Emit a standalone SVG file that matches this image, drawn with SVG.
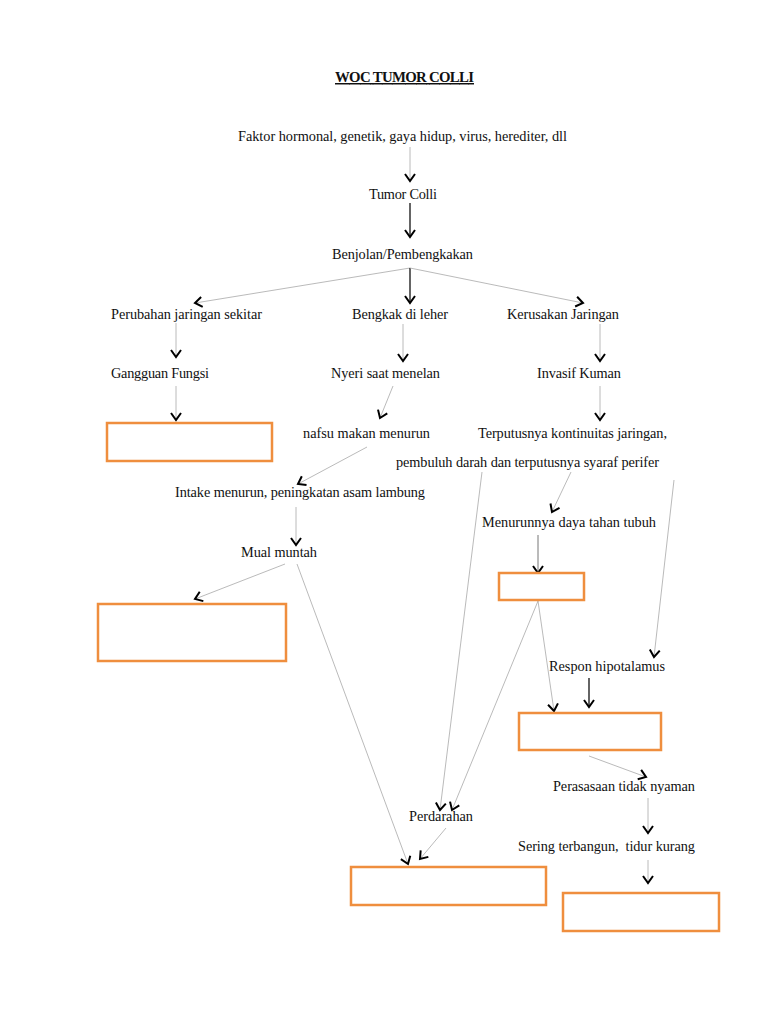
<svg xmlns="http://www.w3.org/2000/svg" width="768" height="1024" viewBox="0 0 768 1024">
<style>
text{font-family:"Liberation Serif","Times New Roman",serif;font-size:14.3px;fill:#111;white-space:pre}
.title{font-weight:bold;text-decoration:underline;font-size:14.8px}
.c{fill:none;stroke:#a8a8a8;stroke-width:0.8;marker-end:url(#chev)}
.k{stroke:#111;stroke-width:1.3}
.m{stroke:#777;stroke-width:1}
.box{fill:#fff;stroke:#EF8E3E;stroke-width:2.5}
</style>
<defs>
<marker id="chev" markerUnits="userSpaceOnUse" viewBox="-10 -10 20 20" markerWidth="20" markerHeight="20" refX="0" refY="0" orient="auto" overflow="visible">
<path d="M-7,-5 L0,0 L-7,5" fill="none" stroke="#000" stroke-width="2"/>
</marker>
</defs>
<rect width="768" height="1024" fill="#fff"/>
<g id="connectors">
<line class="c" x1="410" y1="147" x2="410" y2="181"/>
<line class="c k" x1="410" y1="203" x2="410" y2="237"/>
<line class="c" x1="410" y1="268" x2="195" y2="303"/>
<line class="c k" x1="410" y1="268" x2="410" y2="303"/>
<line class="c" x1="410" y1="268" x2="583" y2="303"/>
<line class="c" x1="176" y1="323" x2="176" y2="357"/>
<line class="c" x1="403" y1="324" x2="403" y2="361"/>
<line class="c" x1="600" y1="324" x2="600" y2="361"/>
<line class="c" x1="176" y1="386" x2="176" y2="420"/>
<line class="c" x1="393" y1="386" x2="380" y2="418"/>
<line class="c" x1="600" y1="386" x2="600" y2="420"/>
<line class="c" x1="367" y1="447" x2="298" y2="484"/>
<line class="c" x1="571" y1="472" x2="552" y2="512"/>
<line class="c" x1="296" y1="507" x2="296" y2="545"/>
<line class="c m" x1="538" y1="535" x2="538" y2="573"/>
<line class="c" x1="285" y1="564" x2="195" y2="599"/>
<line class="c" x1="297" y1="564" x2="408" y2="864"/>
<line class="c" x1="482" y1="472" x2="440" y2="810"/>
<line class="c" x1="674" y1="480" x2="654" y2="657"/>
<line class="c" x1="538" y1="601" x2="452" y2="810"/>
<line class="c" x1="538" y1="601" x2="554" y2="711"/>
<line class="c k" x1="589" y1="678" x2="589" y2="707"/>
<line class="c" x1="589" y1="756" x2="646" y2="777"/>
<line class="c" x1="648" y1="798" x2="648" y2="833"/>
<line class="c" x1="648" y1="860" x2="648" y2="883"/>
<line class="c" x1="446" y1="828" x2="420" y2="859"/>
</g>
<g id="title"><text class="title" x="335" y="82" textLength="139">WOC TUMOR COLLI</text></g>
<g id="n-faktor"><text x="238" y="141" textLength="329">Faktor hormonal, genetik, gaya hidup, virus, herediter, dll</text></g>
<g id="n-tumor"><text x="369" y="199" textLength="68">Tumor Colli</text></g>
<g id="n-benjolan"><text x="332" y="259" textLength="141">Benjolan/Pembengkakan</text></g>
<g id="n-perubahan"><text x="111" y="319" textLength="151">Perubahan jaringan sekitar</text></g>
<g id="n-bengkak"><text x="352" y="319" textLength="96">Bengkak di leher</text></g>
<g id="n-kerusakan"><text x="507" y="319" textLength="112">Kerusakan Jaringan</text></g>
<g id="n-gangguan"><text x="111" y="378" textLength="98">Gangguan Fungsi</text></g>
<g id="n-nyeri"><text x="331" y="378" textLength="109">Nyeri saat menelan</text></g>
<g id="n-invasif"><text x="537" y="378" textLength="84">Invasif Kuman</text></g>
<g id="n-nafsu"><text x="303" y="438" textLength="127">nafsu makan menurun</text></g>
<g id="n-terputusnya">
<text x="478" y="438" textLength="189">Terputusnya kontinuitas jaringan,</text>
<text x="396" y="467" textLength="263">pembuluh darah dan terputusnya syaraf perifer</text>
</g>
<g id="n-intake"><text x="175" y="497" textLength="250">Intake menurun, peningkatan asam lambung</text></g>
<g id="n-menurunnya"><text x="482" y="527" textLength="174">Menurunnya daya tahan tubuh</text></g>
<g id="n-mual"><text x="241" y="557" textLength="76">Mual muntah</text></g>
<g id="n-respon"><text x="549" y="671" textLength="116">Respon hipotalamus</text></g>
<g id="n-perasaan"><text x="553" y="791" textLength="142">Perasasaan tidak nyaman</text></g>
<g id="n-perdarahan"><text x="409" y="821" textLength="64">Perdarahan</text></g>
<g id="n-sering"><text x="518" y="851" textLength="177">Sering terbangun,  tidur kurang</text></g>
<g id="box1"><rect class="box" x="107" y="423" width="165" height="38"/></g>
<g id="box2"><rect class="box" x="499" y="573" width="85" height="27"/></g>
<g id="box3"><rect class="box" x="98" y="604" width="188" height="57"/></g>
<g id="box4"><rect class="box" x="519" y="713" width="142" height="37"/></g>
<g id="box5"><rect class="box" x="563" y="893" width="156" height="38"/></g>
<g id="box6"><rect class="box" x="351" y="867" width="195" height="38"/></g>
</svg>
